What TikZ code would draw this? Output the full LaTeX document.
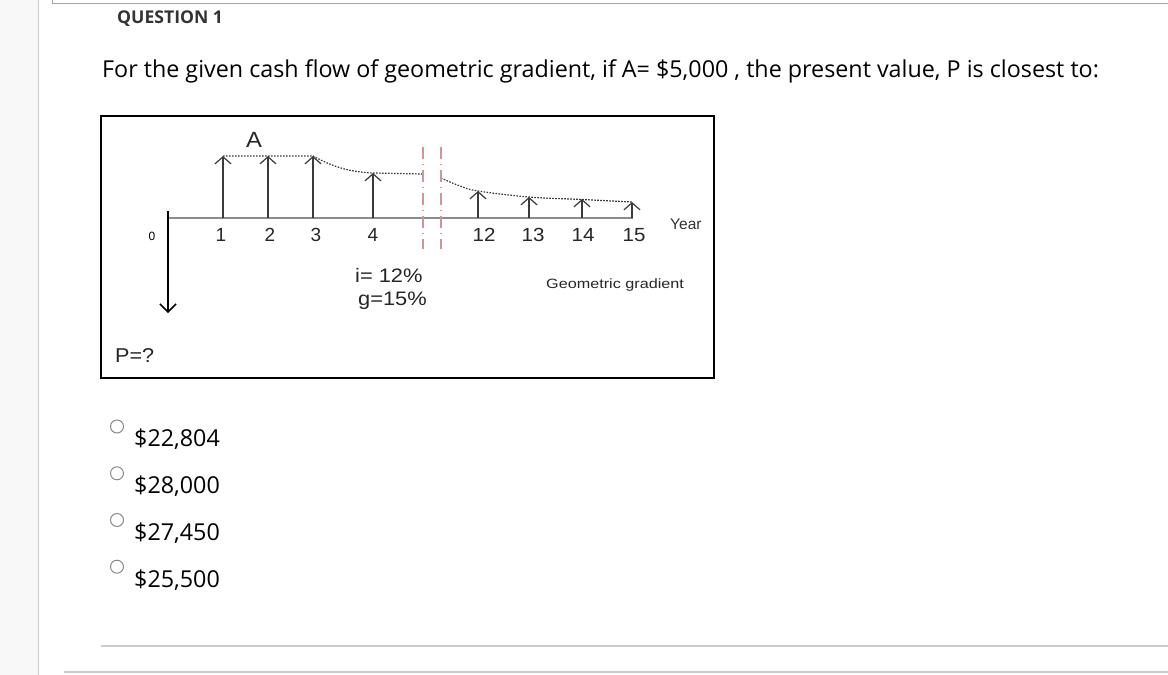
\documentclass[tikz,border=0pt]{standalone}
\usepackage{fontspec}
\setmainfont{Open Sans}
\newfontfamily\arialf{Liberation Sans}
\usetikzlibrary{arrows.meta}
\definecolor{pagegrey}{HTML}{F8F8F8}
\definecolor{rulegrey}{HTML}{CCCCCC}
\definecolor{axisgrey}{HTML}{8C8C8C}
\definecolor{arrowgrey}{HTML}{3A3A3A}
\definecolor{breakred}{HTML}{D09595}
\definecolor{radiogrey}{HTML}{8A8A8A}
\tikzset{
  uparrow/.style={draw=arrowgrey, line width=1.3pt, -{Straight Barb[length=7pt,width=16pt,line width=1.2pt]}},
  downarrow/.style={draw=black, line width=1.6pt, -{Straight Barb[length=8pt,width=16pt,line width=1.5pt]}},
  axisline/.style={draw=axisgrey, line width=2pt},
  dotline/.style={draw=arrowgrey, line width=1.2pt, dash pattern=on 1.6pt off 1.4pt},
  breakline/.style={draw=breakred, line width=1.6pt, dash pattern=on 12pt off 5pt on 1pt off 5pt},
  yearlbl/.style={font=\arialf\fontsize{19}{22}\selectfont, text=black!85, inner sep=0pt, anchor=base},
  optlbl/.style={font=\fontsize{23.3}{27}\selectfont, anchor=base west, inner sep=0pt},
  radio/.style={draw=radiogrey, line width=1pt, fill=white}
}
\begin{document}
\begin{tikzpicture}[x=1pt,y=-1pt]
\useasboundingbox (0,0) rectangle (1168,675);
\fill[white] (0,0) rectangle (1168,675);
% page chrome
\fill[pagegrey] (0,0) rectangle (38,675);
\draw[rulegrey, line width=1pt] (38,0) -- (38,675);
\draw[draw=black!35, line width=1pt] (52,0) -- (52,3) -- (1168,3);
\draw[rulegrey, line width=1.2pt] (101,646) -- (1168,646);
\draw[rulegrey, line width=1.2pt] (64,672) -- (1168,672);
% headings
\node[font=\bfseries\fontsize{17.6}{21}\selectfont, text=black!80, anchor=base west, inner sep=0pt] (qh) at (117,23) {QUESTION 1};
\node[font=\fontsize{23.3}{28}\selectfont, anchor=base west, inner sep=0pt] (qt) at (102,77) {For the given cash flow of geometric gradient, if A= \$5,000 , the present value, P is closest to:};
% diagram frame
\draw[black, line width=1.4pt] (101,116) rectangle (714,378);
% axis
\coordinate (o) at (168,218);
\coordinate (aend) at (633,218);
\draw[axisline] (o) -- (aend);
\coordinate (dtop) at (168,211);
\coordinate (dbot) at (168,313);
\draw[downarrow] (dtop) -- (dbot);
% cash flow arrows
\coordinate (b1) at (223,218); \coordinate (t1) at (223,156);
\coordinate (b2) at (268,218); \coordinate (t2) at (268,156);
\coordinate (b3) at (313,218); \coordinate (t3) at (313,156);
\coordinate (b4) at (373,218); \coordinate (t4) at (373,173);
\coordinate (b12) at (478,218); \coordinate (t12) at (478,191);
\coordinate (b13) at (529,218); \coordinate (t13) at (529,197);
\coordinate (b14) at (582,218); \coordinate (t14) at (582,199);
\coordinate (b15) at (632,218); \coordinate (t15) at (632,202);
\foreach \k in {1,2,3,4,12,13,14,15} {\draw[uparrow] (b\k) -- (t\k);}
% dotted envelope
\coordinate (e1) at (423,174);
\coordinate (e2) at (441,178);
\draw[dotline] (t1) -- (t3) .. controls (333,167) and (350,172) .. (t4) -- (e1);
\draw[dotline] plot[smooth, tension=0.6] coordinates {(441,178) (460,186) (478,191) (529,197) (582,199.5) (632,202)};
% break lines
\coordinate (r1a) at (423,147); \coordinate (r1b) at (423,249);
\coordinate (r2a) at (441,147); \coordinate (r2b) at (441,249);
\draw[breakline] (r1a) -- (r1b);
\draw[breakline] (r2a) -- (r2b);
% labels
\node[font=\arialf\fontsize{12}{14}\selectfont, inner sep=0pt] (l0) at (152,236) {0};
\node[yearlbl] (l1) at (221,241) {1};
\node[yearlbl] (l2) at (270,241) {2};
\node[yearlbl] (l3) at (316,241) {3};
\node[yearlbl] (l4) at (373,241) {4};
\node[yearlbl] (l12) at (484,241) {\scalebox{1.08}[1]{12}};
\node[yearlbl] (l13) at (533,241) {\scalebox{1.08}[1]{13}};
\node[yearlbl] (l14) at (583,241) {\scalebox{1.08}[1]{14}};
\node[yearlbl] (l15) at (634,241) {\scalebox{1.08}[1]{15}};
\node[font=\arialf\fontsize{15.5}{18}\selectfont, text=black!80, inner sep=0pt, anchor=base west] (yr) at (670,229) {Year};
\node[font=\arialf\fontsize{22}{26}\selectfont, text=black!85, inner sep=0pt, anchor=base] (la) at (254,147) {\scalebox{1.08}[1]{A}};
\node[font=\arialf\fontsize{19.5}{23}\selectfont, text=black!85, inner sep=0pt, anchor=base west] (li) at (355,282) {\scalebox{1.12}[1]{i= 12\%}};
\node[font=\arialf\fontsize{19.5}{23}\selectfont, text=black!85, inner sep=0pt, anchor=base west] (lg) at (358,305) {\scalebox{1.12}[1]{g=15\%}};
\node[font=\arialf\fontsize{13.5}{16}\selectfont, text=black!85, inner sep=0pt, anchor=base west] (gg) at (546,288) {\scalebox{1.2}[1]{Geometric gradient}};
\node[font=\arialf\fontsize{20}{24}\selectfont, text=black!85, inner sep=0pt, anchor=base west] (lp) at (115,362) {\scalebox{1.08}[1]{P=?}};
% options
\node[radio, circle, minimum size=13pt, inner sep=0pt] (c1) at (117,426.5) {};
\node[radio, circle, minimum size=13pt, inner sep=0pt] (c2) at (117,473.3) {};
\node[radio, circle, minimum size=13pt, inner sep=0pt] (c3) at (117,520) {};
\node[radio, circle, minimum size=13pt, inner sep=0pt] (c4) at (117,566.7) {};
\node[optlbl] (o1) at (134,446.7) {\$22,804};
\node[optlbl] (o2) at (134,493.5) {\$28,000};
\node[optlbl] (o3) at (134,540.3) {\$27,450};
\node[optlbl] (o4) at (134,587) {\$25,500};
\end{tikzpicture}
\end{document}
